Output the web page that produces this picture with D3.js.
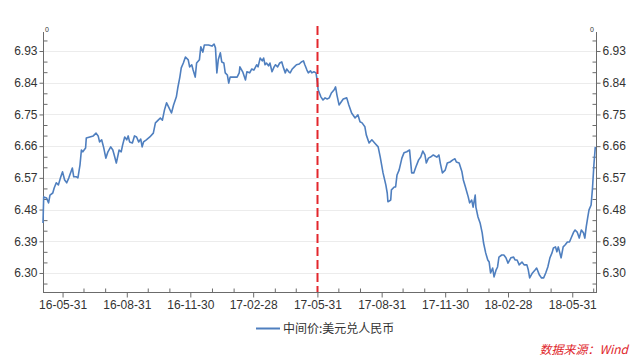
<!DOCTYPE html>
<html>
<head>
<meta charset="utf-8">
<script src="https://cdn.jsdelivr.net/npm/d3@7"></script>
<style>
  html, body { margin: 0; padding: 0; background: #fff; }
  svg { display: block; }
  text { font-family: "Liberation Sans", Arial, "Noto Sans CJK SC", sans-serif; }
</style>
</head>
<body>
<svg id="chart" width="640" height="359"></svg>
<script>
// ---- data ----
const seriesName = "中间价:美元兑人民币";
const sourceLabel = "数据来源：Wind";
const markerDate = "2017-05-31";
const yTickValues = [6.30, 6.39, 6.48, 6.57, 6.66, 6.75, 6.84, 6.93];
const xTickLabels = ["16-05-31", "16-08-31", "16-11-30", "17-02-28", "17-05-31", "17-08-31", "17-11-30", "18-02-28", "18-05-31"];
const dates = [
  "2016-05-03","2016-05-04","2016-05-08","2016-05-11","2016-05-13","2016-05-17","2016-05-19","2016-05-22","2016-05-25","2016-05-28",
  "2016-05-31","2016-06-03","2016-06-06","2016-06-09","2016-06-14","2016-06-16","2016-06-20","2016-06-22","2016-06-25","2016-06-27",
  "2016-06-29","2016-07-03","2016-07-04","2016-07-09","2016-07-14","2016-07-18","2016-07-21","2016-07-23","2016-07-26","2016-07-29",
  "2016-08-01","2016-08-04","2016-08-08","2016-08-11","2016-08-13","2016-08-16","2016-08-20","2016-08-23","2016-08-25","2016-08-28",
  "2016-08-31","2016-09-02","2016-09-04","2016-09-08","2016-09-11","2016-09-14","2016-09-17","2016-09-20","2016-09-22","2016-09-24",
  "2016-09-28","2016-10-03","2016-10-08","2016-10-11","2016-10-15","2016-10-18","2016-10-21","2016-10-24","2016-10-27","2016-10-30",
  "2016-11-03","2016-11-06","2016-11-10","2016-11-12","2016-11-15","2016-11-17","2016-11-20","2016-11-23","2016-11-27","2016-11-29",
  "2016-12-02","2016-12-04","2016-12-07","2016-12-09","2016-12-13","2016-12-15","2016-12-18","2016-12-20","2016-12-26","2016-12-31",
  "2017-01-03","2017-01-05","2017-01-07","2017-01-09","2017-01-12","2017-01-14","2017-01-17","2017-01-19","2017-01-22","2017-01-24",
  "2017-01-26","2017-01-31","2017-02-05","2017-02-08","2017-02-09","2017-02-13","2017-02-17","2017-02-19","2017-02-23","2017-02-26",
  "2017-03-01","2017-03-05","2017-03-07","2017-03-10","2017-03-13","2017-03-15","2017-03-17","2017-03-19","2017-03-22","2017-03-24",
  "2017-03-27","2017-03-30","2017-04-01","2017-04-04","2017-04-07","2017-04-10","2017-04-12","2017-04-15","2017-04-17","2017-04-20",
  "2017-04-22","2017-04-25","2017-04-28","2017-05-01","2017-05-05","2017-05-08","2017-05-11","2017-05-13","2017-05-16","2017-05-18",
  "2017-05-21","2017-05-23","2017-05-26","2017-05-29","2017-05-31","2017-06-01","2017-06-05","2017-06-08","2017-06-11","2017-06-14",
  "2017-06-17","2017-06-20","2017-06-24","2017-06-26","2017-06-28","2017-07-01","2017-07-07","2017-07-12","2017-07-15","2017-07-19",
  "2017-07-24","2017-07-28","2017-07-31","2017-08-03","2017-08-07","2017-08-09","2017-08-13","2017-08-17","2017-08-21","2017-08-26",
  "2017-08-29","2017-09-02","2017-09-06","2017-09-08","2017-09-09","2017-09-13","2017-09-14","2017-09-18","2017-09-20","2017-09-22",
  "2017-09-25","2017-09-29","2017-10-02","2017-10-06","2017-10-10","2017-10-13","2017-10-16","2017-10-19","2017-10-23","2017-10-26",
  "2017-10-29","2017-11-01","2017-11-03","2017-11-06","2017-11-09","2017-11-13","2017-11-18","2017-11-21","2017-11-23","2017-11-26",
  "2017-11-30","2017-12-03","2017-12-07","2017-12-11","2017-12-14","2017-12-16","2017-12-20","2017-12-24","2017-12-26","2017-12-29",
  "2017-12-31","2018-01-02","2018-01-04","2018-01-07","2018-01-09","2018-01-12","2018-01-13","2018-01-16","2018-01-19","2018-01-22",
  "2018-01-24","2018-01-27","2018-01-30","2018-02-01","2018-02-03","2018-02-06","2018-02-08","2018-02-11","2018-02-13","2018-02-15",
  "2018-02-19","2018-02-22","2018-02-25","2018-02-28","2018-03-04","2018-03-08","2018-03-10","2018-03-13","2018-03-16","2018-03-20",
  "2018-03-23","2018-03-27","2018-03-29","2018-03-31","2018-04-04","2018-04-08","2018-04-10","2018-04-14","2018-04-17","2018-04-20",
  "2018-04-23","2018-04-26","2018-04-29","2018-05-02","2018-05-04","2018-05-07","2018-05-09","2018-05-11","2018-05-15","2018-05-18",
  "2018-05-21","2018-05-24","2018-05-27","2018-05-30","2018-06-02","2018-06-04","2018-06-07","2018-06-10","2018-06-13","2018-06-16",
  "2018-06-18","2018-06-20","2018-06-22","2018-06-24","2018-06-27","2018-06-29","2018-07-01","2018-07-03"
];
const values = [
  6.442,6.516,6.513,6.499,6.521,6.527,6.541,6.556,6.550,6.570,
  6.587,6.564,6.556,6.570,6.598,6.573,6.573,6.570,6.607,6.649,
  6.644,6.655,6.683,6.686,6.689,6.697,6.689,6.672,6.678,6.655,
  6.626,6.644,6.658,6.649,6.635,6.612,6.649,6.644,6.663,6.686,
  6.678,6.689,6.672,6.669,6.689,6.686,6.672,6.680,6.658,6.672,
  6.678,6.686,6.697,6.726,6.734,6.740,6.734,6.763,6.783,6.771,
  6.754,6.777,6.800,6.825,6.856,6.882,6.896,6.913,6.905,6.885,
  6.891,6.876,6.856,6.896,6.905,6.942,6.927,6.947,6.947,6.944,
  6.950,6.939,6.868,6.905,6.925,6.899,6.896,6.868,6.862,6.839,
  6.856,6.856,6.856,6.868,6.885,6.871,6.848,6.871,6.868,6.879,
  6.876,6.891,6.885,6.910,6.902,6.910,6.891,6.896,6.888,6.896,
  6.871,6.885,6.891,6.885,6.896,6.899,6.885,6.868,6.879,6.871,
  6.868,6.879,6.885,6.891,6.893,6.899,6.902,6.891,6.876,6.868,
  6.874,6.868,6.871,6.868,6.842,6.820,6.800,6.791,6.797,6.794,
  6.797,6.811,6.820,6.828,6.805,6.777,6.794,6.797,6.777,6.754,
  6.740,6.749,6.729,6.726,6.715,6.692,6.669,6.678,6.669,6.658,
  6.629,6.584,6.550,6.527,6.502,6.507,6.536,6.544,6.544,6.578,
  6.592,6.626,6.641,6.644,6.649,6.584,6.584,6.601,6.621,6.629,
  6.646,6.635,6.612,6.626,6.629,6.635,6.629,6.635,6.612,6.584,
  6.592,6.612,6.615,6.621,6.624,6.615,6.612,6.587,6.564,6.544,
  6.530,6.516,6.499,6.507,6.487,6.521,6.487,6.459,6.442,6.414,
  6.385,6.357,6.337,6.331,6.300,6.314,6.289,6.309,6.317,6.345,
  6.351,6.351,6.343,6.328,6.343,6.345,6.337,6.337,6.323,6.331,
  6.323,6.323,6.309,6.286,6.300,6.309,6.314,6.294,6.286,6.286,
  6.300,6.317,6.343,6.357,6.371,6.374,6.360,6.374,6.343,6.374,
  6.380,6.388,6.388,6.402,6.416,6.422,6.416,6.399,6.422,6.414,
  6.399,6.431,6.456,6.479,6.493,6.541,6.607,6.658
];
const xDomain = ["2016-05-03", "2018-07-04"];
const yDomain = [6.246, 6.984];

// ---- layout ----
const plotL = 43, plotR = 596, plotT = 32, plotB = 292;
const parse = d3.timeParse("%Y-%m-%d");
const fmt = d3.timeFormat("%y-%m-%d");
const data = dates.map((d, i) => ({ date: parse(d), value: values[i] }));

const svg = d3.select("#chart");
const x = d3.scaleTime().domain(xDomain.map(parse)).range([plotL, plotR]);
const y = d3.scaleLinear().domain(yDomain).range([plotB, plotT]);

const axisColor = "#6b6b6b";
const textColor = "#333";

// grid
svg.append("g").selectAll("line").data(yTickValues).join("line")
  .attr("x1", plotL).attr("x2", plotR)
  .attr("y1", d => Math.round(y(d)) + 0.5).attr("y2", d => Math.round(y(d)) + 0.5)
  .attr("stroke", "#ececec").attr("stroke-width", 1);

// minor y ticks (every 0.03, inside)
const yMinor = d3.range(Math.ceil(yDomain[0] / 0.03), Math.floor(yDomain[1] / 0.03) + 1).map(k => +(k * 0.03).toFixed(2))
  .filter(v => !yTickValues.some(t => Math.abs(t - v) < 1e-6));

function yAxisGroup(isLeft) {
  const xpos = isLeft ? plotL + 0.5 : plotR + 0.5;
  const g = svg.append("g").attr("transform", `translate(${xpos},0)`);
  const ax = (isLeft ? d3.axisLeft(y) : d3.axisRight(y))
    .tickValues(yTickValues).tickFormat(d3.format(".2f")).tickSize(4).tickPadding(2);
  g.call(ax);
  g.select(".domain").attr("stroke", axisColor).attr("d", `M0,${plotT}V${plotB}`);
  g.selectAll(".tick line").attr("stroke", axisColor);
  g.selectAll(".tick text").attr("fill", textColor).style("font-size", "12px")
    .style("font-family", "'Liberation Sans', Arial, sans-serif");
  const mg = svg.append("g").attr("transform", `translate(${xpos},0)`);
  const mAx = (isLeft ? d3.axisRight(y) : d3.axisLeft(y)).tickValues(yMinor).tickSize(4).tickFormat("");
  mg.call(mAx);
  mg.select(".domain").remove();
  mg.selectAll(".tick line").attr("stroke", axisColor);
  svg.append("text").attr("x", isLeft ? plotL + 2 : plotR - 2).attr("y", plotT)
    .attr("text-anchor", isLeft ? "start" : "end")
    .attr("fill", textColor).style("font-size", "7px").text("0");
}
yAxisGroup(true);
yAxisGroup(false);

// x axis
const monthEnds = d3.timeMonth.range(d3.timeMonth.ceil(x.domain()[0]), x.domain()[1]).map(d => d3.timeDay.offset(d, -1))
  .filter(d => d >= x.domain()[0] && d <= x.domain()[1]);
const majorDates = monthEnds.filter(d => xTickLabels.includes(fmt(d)));
const minorDates = monthEnds.filter(d => !xTickLabels.includes(fmt(d)));

const gx = svg.append("g").attr("transform", `translate(0,${plotB + 0.5})`);
gx.call(d3.axisBottom(x).tickValues(majorDates).tickFormat(fmt).tickSize(5).tickPadding(3));
gx.select(".domain").attr("stroke", axisColor).attr("d", `M${plotL},0H${plotR + 1}`);
gx.selectAll(".tick line").attr("stroke", axisColor);
gx.selectAll(".tick text").attr("fill", textColor).style("font-size", "12px");
const gxm = svg.append("g").attr("transform", `translate(0,${plotB + 0.5})`);
gxm.call(d3.axisTop(x).tickValues(minorDates).tickFormat("").tickSize(4));
gxm.select(".domain").remove();
gxm.selectAll(".tick line").attr("stroke", axisColor);

// line
svg.append("path").datum(data)
  .attr("fill", "none").attr("stroke", "#4f7fbf").attr("stroke-width", 1.6)
  .attr("stroke-linejoin", "round")
  .attr("d", d3.line().x(d => x(d.date)).y(d => y(d.value)));

// marker line
const mx = Math.round(x(parse(markerDate))) + 0.5;
svg.append("line").attr("x1", mx).attr("x2", mx).attr("y1", plotT - 6).attr("y2", plotB)
  .attr("stroke", "#e3262c").attr("stroke-width", 2).attr("stroke-dasharray", "9,4");

// legend
const lg = svg.append("g").attr("transform", "translate(256,328)");
lg.append("line").attr("x1", 0).attr("x2", 24).attr("y1", 0.5).attr("y2", 0.5)
  .attr("stroke", "#4f7fbf").attr("stroke-width", 2);
lg.append("text").attr("x", 27).attr("y", 4.5).attr("fill", textColor)
  .style("font-size", "12px").style("font-family", "'Noto Sans CJK SC', sans-serif").text(seriesName);

// source
svg.append("text").attr("x", 628).attr("y", 354).attr("text-anchor", "end")
  .attr("fill", "#e0262b").style("font-size", "12px").style("font-style", "italic")
  .style("font-family", "'Noto Sans CJK SC', sans-serif").text(sourceLabel);
</script>
</body>
</html>
